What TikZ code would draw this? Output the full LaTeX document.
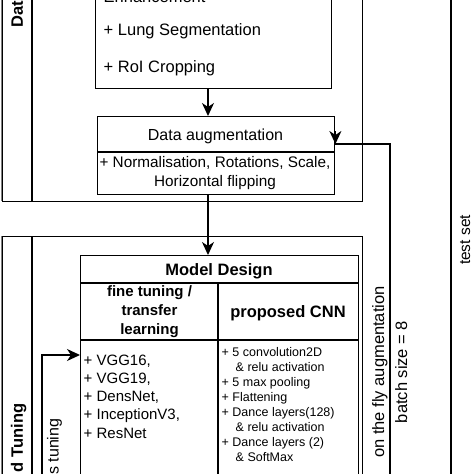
\documentclass[tikz,border=0pt]{standalone}
\usepackage{fontspec}
\setmainfont{Liberation Sans}
\usetikzlibrary{arrows.meta,positioning}

\begin{document}
\begin{tikzpicture}
    [x=1pt, y=-1pt,
    line width=1.4pt,
    frame/.style={draw=black, anchor=north west, inner sep=0pt},
    txt/.style={anchor=base west, inner sep=0pt, font=\fontsize{16.5}{20}\selectfont},
    item/.style={anchor=base west, inner sep=0pt, font=\fontsize{15}{18}\selectfont},
    layer/.style={anchor=base west, inner sep=0pt, font=\fontsize{12.5}{15}\selectfont},
    lanetitle/.style={rotate=90, inner sep=0pt, font=\bfseries\fontsize{16.5}{20}\selectfont},
    edgelabel/.style={rotate=90, inner sep=0pt, anchor=base, font=\fontsize{16.5}{20}\selectfont},
    head/.style={align=center, inner sep=0pt, font=\bfseries\fontsize{15}{19}\selectfont},
    arr/.style={-{Stealth[length=13pt, width=12pt, inset=4pt]}},
    ]
    \useasboundingbox (0,0) rectangle (474,474);

    % swimlanes
    \node[frame, minimum width=360.5pt, minimum height=221pt] (lane1) at (1.5,-20) {};
    \node[frame, minimum width=360.5pt, minimum height=260pt] (lane2) at (1.5,236) {};
    \draw[gray] (1.5,-20) -- (1.5,201);
    \draw[gray] (1.5,236) -- (1.5,496);
    \draw (32,-20) -- (32,201);
    \draw (32,236) -- (32,496);
    \node[lanetitle, anchor=base west] (title1) at (23,28) {Data};
    \node[lanetitle, anchor=base east] (title2) at (23,403) {d Tuning};

    % preprocessing
    \node[frame, minimum width=236pt, minimum height=108pt] (prep) at (95,-20) {};
    \node[txt] (enh) at (103,2) {Enhancement};
    \node[txt] (lung) at (103,35) {+ Lung Segmentation};
    \node[txt] (roi) at (103,72) {+ RoI Cropping};

    % augmentation
    \node[frame, minimum width=237pt, minimum height=78pt] (aug) at (97,116) {};
    \draw (97,152) -- (334,152);
    \node[anchor=base, inner sep=0pt, font=\fontsize{16}{19}\selectfont] (augtitle) at (215.5,140) {Data augmentation};
    \node[align=center, inner sep=0pt, font=\fontsize{15.3}{19}\selectfont] (augops) at (215,173.5) {+ Normalisation, Rotations, Scale,\\Horizontal flipping};

    % model design
    \node[frame, minimum width=278pt, minimum height=240pt] (model) at (80,255) {};
    \draw (80,283) -- (358,283);
    \draw (80,340) -- (358,340);
    \draw (218,283) -- (218,495);
    \node[anchor=base, inner sep=0pt, font=\bfseries\fontsize{16.5}{20}\selectfont] (modeltitle) at (219,275) {Model Design};
    \node[head] (finetune) at (149.5,312) {fine tuning /\\transfer\\learning};
    \node[head, anchor=base, font=\bfseries\fontsize{16.5}{20}\selectfont] (cnn) at (288,317) {proposed CNN};

    \node[item] (vgg16) at (83,365) {+ VGG16,};
    \node[item] (vgg19) at (83,383.3) {+ VGG19,};
    \node[item] (dens) at (83,401.5) {+ DensNet,};
    \node[item] (incep) at (83,419.8) {+ InceptionV3,};
    \node[item] (res) at (83,438) {+ ResNet};

    \node[layer] (conv) at (221,356) {+ 5 convolution2D};
    \node[layer] (relu1) at (235,371) {\& relu activation};
    \node[layer] (pool) at (221,386) {+ 5 max pooling};
    \node[layer] (flat) at (221,401) {+ Flattening};
    \node[layer] (dense1) at (221,416) {+ Dance layers(128)};
    \node[layer] (relu2) at (235,431) {\& relu activation};
    \node[layer] (dense2) at (221,446) {+ Dance layers (2)};
    \node[layer] (soft) at (235,461) {\& SoftMax};

    % connectors
    \coordinate (ax) at (208,0);
    \draw[arr] (prep.south -| ax) -- (aug.north -| ax);
    \draw[arr] (aug.south -| ax) -- (model.north -| ax);

    \coordinate (fb) at (390,490);
    \path (aug.north east) ++(0,28) coordinate (augin);
    \draw (fb) |- (augin);
    \draw[arr] (augin) ++(0,-13) -- (augin);
    \node[edgelabel] (fly) at (384,372) {on the fly augmentation};
    \node[edgelabel] (batch) at (407,372) {batch size = 8};

    \coordinate (tn) at (42,490);
    \path (model.north west) ++(0,100) coordinate (modelin);
    \draw[arr] (tn) |- (modelin);
    \node[edgelabel, anchor=base east, font=\fontsize{16}{19}\selectfont] (tune) at (58.5,418) {s tuning};

    % test set
    \coordinate (testtop) at (451,-10);
    \coordinate (testbot) at (451,490);
    \draw (testtop) -- (testbot);
    \node[edgelabel, font=\fontsize{15.5}{19}\selectfont] (test) at (470,240) {test set};
\end{tikzpicture}
\end{document}
